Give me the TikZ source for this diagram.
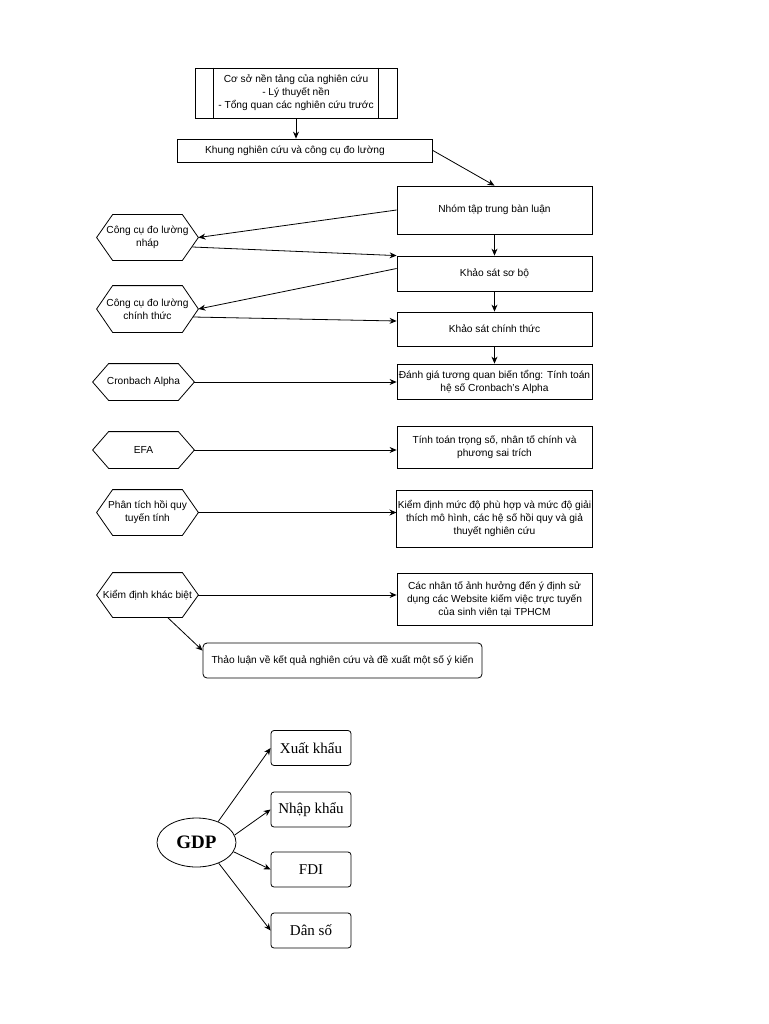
\documentclass[tikz,border=0pt]{standalone}
\usepackage{fontspec}
\setmainfont{Liberation Serif}
\setsansfont{Liberation Sans}
\usetikzlibrary{arrows.meta,shapes.geometric}

\tikzset{
  box/.style={draw,rectangle,align=center,inner sep=1pt,font=\sffamily\fontsize{10.2}{13}\selectfont},
  hexa/.style={rectangle,minimum width=101pt,inner sep=0pt,align=center,font=\sffamily\fontsize{10.2}{13}\selectfont},
  leaf/.style={draw,rounded corners=3pt,minimum width=80pt,minimum height=35pt,font=\fontsize{15}{18}\selectfont},
  arr/.style={draw,-{Stealth[length=7pt,width=6pt]}}
}
% luc giac quanh mot node
\newcommand{\hexline}[1]{\draw (#1.west) -- ([xshift=16pt]#1.north west) -- ([xshift=-16pt]#1.north east)
  -- (#1.east) -- ([xshift=-16pt]#1.south east) -- ([xshift=16pt]#1.south west) -- cycle;}

\begin{document}
\begin{tikzpicture}[x=1pt,y=-1pt,line width=0.8pt]
\useasboundingbox (0,0) rectangle (768,1024);
% khung chinh
\node[box,minimum width=202pt,minimum height=50pt] (coso) at (296,93) {Cơ sở nền tảng của nghiên cứu\\- Lý thuyết nền\\- Tổng quan các nghiên cứu trước};
\draw ([xshift=19pt]coso.north west) -- ([xshift=19pt]coso.south west);
\draw ([xshift=-19pt]coso.north east) -- ([xshift=-19pt]coso.south east);
\node[box,minimum width=255pt,minimum height=23pt] (khung) at (305,150.5) {Khung nghiên cứu và công cụ đo lường\hspace{20pt}};
\node[box,minimum width=195pt,minimum height=48pt] (nhom) at (494.5,210) {Nhóm tập trung bàn luận};
\node[box,minimum width=195pt,minimum height=35pt] (sobo) at (494.5,273.5) {Khảo sát sơ bộ};
\node[box,minimum width=195pt,minimum height=34pt] (chinhthuc) at (494.5,329) {Khảo sát chính thức};
\node[box,minimum width=195pt,minimum height=35pt] (cronbach) at (494.5,381.5) {Đánh giá tương quan biến tổng: Tính toán\\hệ số Cronbach’s Alpha};
\node[box,minimum width=195pt,minimum height=42pt] (efa) at (494.5,447) {Tính toán trọng số, nhân tố chính và\\phương sai trích};
\node[box,minimum width=195pt,minimum height=57pt] (hoiquy) at (494.5,518.5) {Kiểm định mức độ phù hợp và mức độ giải\\thích mô hình, các hệ số hồi quy và giả\\thuyết nghiên cứu};
\node[box,minimum width=195pt,minimum height=52pt] (nhanto) at (494.5,599) {Các nhân tố ảnh hưởng đến ý định sử\\dụng các Website kiếm việc trực tuyến\\của sinh viên tại TPHCM};
\node[box,rounded corners=4pt,minimum width=279pt,minimum height=35pt] (thaoluan) at (342.5,660.5) {Thảo luận về kết quả nghiên cứu và đề xuất một số ý kiến};

% cac cong cu
\node[hexa,minimum height=45pt] (hxnhap) at (147.5,237.5) {Công cụ đo lường\\nháp};
\node[hexa,minimum height=46pt] (hxchinh) at (147.5,309) {Công cụ đo lường\\chính thức};
\node[hexa,minimum height=36pt] (hxcron) at (143.5,382) {Cronbach Alpha};
\node[hexa,minimum height=36pt] (hxefa) at (143.5,450) {EFA};
\node[hexa,minimum height=45pt] (hxhoiquy) at (147.5,512.5) {Phân tích hồi quy\\tuyến tính};
\node[hexa,minimum height=44pt] (hxkhac) at (147.5,595) {Kiểm định khác biệt};
\hexline{hxnhap} \hexline{hxchinh} \hexline{hxcron}
\hexline{hxefa} \hexline{hxhoiquy} \hexline{hxkhac}

\draw[arr] (coso.south) -- (coso.south |- khung.north);
\draw[arr] (khung.east) -- (nhom.north);
\draw[arr] (nhom.south) -- (sobo.north);
\draw[arr] (sobo.south) -- (chinhthuc.north);
\draw[arr] (chinhthuc.south) -- (cronbach.north);
\draw[arr] (nhom.west) -- (hxnhap.east);
\draw[arr] ([xshift=-6pt,yshift=-9.5pt]hxnhap.east) -- (sobo.north west);
\draw[arr] ([yshift=5pt]sobo.west) -- (hxchinh.east);
\draw[arr] ([xshift=-5.6pt,yshift=-8pt]hxchinh.east) -- ([yshift=8pt]chinhthuc.west);
\draw[arr] (hxcron.east) -- (hxcron.east -| cronbach.west);
\draw[arr] (hxefa.east) -- (hxefa.east -| efa.west);
\draw[arr] (hxhoiquy.east) -- (hxhoiquy.east -| hoiquy.west);
\draw[arr] (hxkhac.east) -- (hxkhac.east -| nhanto.west);
\draw[arr] ([xshift=20pt]hxkhac.south) -- ([yshift=-8pt]thaoluan.north west);

% GDP
\node[draw,ellipse,minimum width=79pt,minimum height=49pt,inner sep=0pt,font=\bfseries\fontsize{19}{22}\selectfont] (gdp) at (196.5,842.5) {GDP};
\node[leaf] (xk) at (311,748) {Xuất khẩu};
\node[leaf] (nk) at (311,809.5) {Nhập khẩu};
\node[leaf] (fdi) at (311,869.5) {FDI};
\node[leaf] (ds) at (311,930.5) {Dân số};
\draw[arr] (gdp.44) -- (xk.west);
\draw[arr] (gdp.11) -- (nk.west);
\draw[arr] (gdp.-14) -- (fdi.west);
\draw[arr] (gdp.-43) -- (ds.west);
\end{tikzpicture}
\end{document}
